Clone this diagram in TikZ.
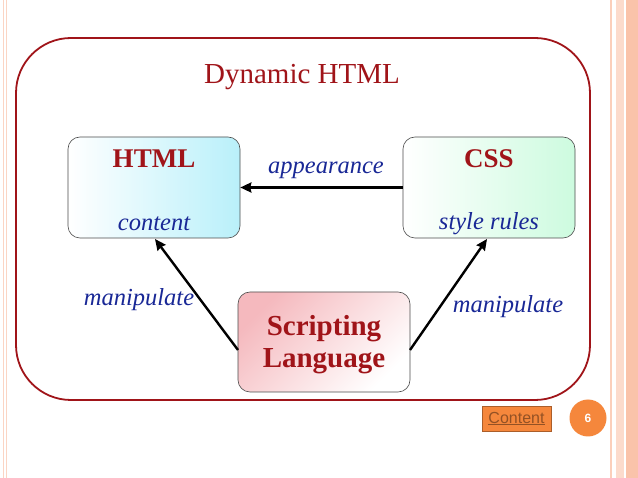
\documentclass[tikz,border=0pt]{standalone}
\usepackage{fontspec}
\setmainfont{Liberation Serif}
\newfontfamily\arialf{Liberation Sans}
\definecolor{dred}{RGB}{160,20,25}
\definecolor{tblue}{RGB}{25,40,150}
\definecolor{peach}{RGB}{250,195,170}
\definecolor{orng}{RGB}{245,135,60}
\definecolor{cyanf}{RGB}{185,240,250}
\definecolor{pinkf}{RGB}{245,185,190}
\tikzset{
  box/.style={draw=black!70, line width=0.6pt, rounded corners=12pt, minimum width=172pt, minimum height=101pt},
  head/.style={text=dred, font=\fontsize{27}{30}\selectfont\bfseries},
  lbl/.style={text=tblue, font=\fontsize{24.5}{28}\selectfont\itshape},
  arr/.style={-{Stealth[length=11pt,width=10pt,inset=1pt]}, line width=2.4pt},
}
\usetikzlibrary{arrows.meta}
\begin{document}
\begin{tikzpicture}[x=1pt,y=-1pt]
\useasboundingbox (0,0) rectangle (638,478);
\fill[white] (0,0) rectangle (638,478);
% edges
\draw[peach!70, line width=1pt] (3,0) -- (3,478);
\draw[peach!70, line width=1pt] (6.5,0) -- (6.5,478);
\draw[peach!80, line width=1.5pt] (611,0) -- (611,478);
\fill[peach!60] (616,0) rectangle (624,478);
\fill[peach] (626,0) rectangle (638,478);
% outer frame
\draw[dred, line width=1.8pt, rounded corners=55pt] (16,38) rectangle (590,400);
\node[text=dred, font=\fontsize{29}{32}\selectfont] (title) at (302,77) {Dynamic HTML};
% boxes
\shade[rounded corners=12pt, left color=white, right color=cyanf] (68,137) rectangle (240,238);
\node[box] (html) at (154,187.5) {};
\shade[rounded corners=12pt, left color=white, right color=cyanf!70!green!40] (403,137) rectangle (575,238);
\node[box] (css) at (489,187.5) {};
\shade[rounded corners=12pt, top color=pinkf, bottom color=white, shading angle=45] (238,292) rectangle (410,392);
\node[box, minimum height=100pt] (scr) at (324,342) {};
\node[head] (htmlh) at (154,159) {HTML};
\node[lbl] (htmlc) at (154,224) {content};
\node[head] (cssh) at (489,159) {CSS};
\node[lbl] (cssc) at (489,224) {style rules};
\node[head, align=center, font=\fontsize{29}{32}\selectfont\bfseries] (scrt) at (324,345) {Scripting\\Language};
% arrows
\draw[arr] (css.west) -- (html.east);
\node[lbl] (app) at (326,170) {appearance};
\coordinate (s1) at (238,350);
\coordinate (s2) at (410,350);
\coordinate (h1) at (155,239);
\coordinate (c1) at (487,239);
\draw[arr] (s1) -- (h1);
\draw[arr] (s2) -- (c1);
\node[lbl] (m1) at (139,300) {manipulate};
\node[lbl] (m2) at (508,307) {manipulate};
% footer
\node[draw=orng!70!black, fill=orng, minimum width=69pt, minimum height=25pt, inner sep=0pt, font=\arialf\fontsize{16}{18}\selectfont, text=orng!60!black] (btn) at (516.5,418.5) {\underline{Content}};
\node[circle, fill=orng, minimum size=37pt, inner sep=0pt, text=white, font=\arialf\bfseries\fontsize{12}{13}\selectfont] (pg) at (588,418) {6};
\end{tikzpicture}
\end{document}
